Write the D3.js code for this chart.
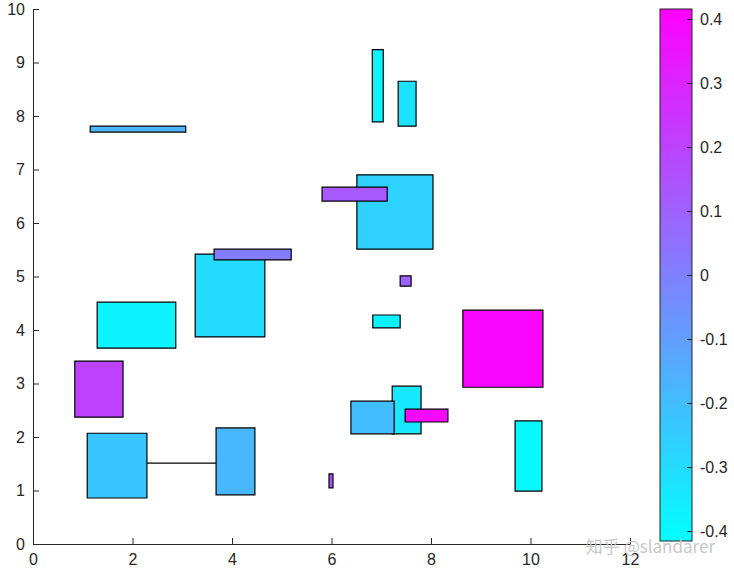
<!DOCTYPE html>
<html><head><meta charset="utf-8">
<script src="https://cdn.jsdelivr.net/npm/d3@7"></script>
<style>body{margin:0;background:#fff}</style>
</head><body>
<svg id="c" width="734" height="577"></svg>
<script>
// rectangles: [x0, x1, y0, y1]
var rects = [
  [1.15, 3.07, 7.70, 7.81], [6.82, 7.04, 7.89, 9.24], [7.34, 7.70, 7.81, 8.65],
  [6.51, 8.04, 5.51, 6.90], [5.81, 7.12, 6.41, 6.67], [3.26, 4.66, 3.87, 5.42],
  [3.64, 5.19, 5.31, 5.51], [1.29, 2.87, 3.66, 4.52], [7.38, 7.60, 4.82, 5.01],
  [6.83, 7.38, 4.04, 4.28], [8.64, 10.25, 2.93, 4.37], [0.84, 1.81, 2.37, 3.42],
  [7.22, 7.80, 2.06, 2.95], [6.39, 7.26, 2.06, 2.67], [7.48, 8.34, 2.28, 2.52],
  [9.69, 10.23, 0.99, 2.30], [1.09, 2.29, 0.86, 2.07], [3.68, 4.46, 0.92, 2.17],
  [5.95, 6.03, 1.05, 1.31], [2.29, 3.68, 1.51, 1.51]
]
var values = [-0.17, -0.38, -0.32, -0.27, 0.13, -0.30, 0.01, -0.38, 0.09,
  -0.37, 0.40, 0.20, -0.34, -0.20, 0.39, -0.40, -0.23, -0.18, 0.15, 0]
var xTicks = [0, 2, 4, 6, 8, 10, 12]
var yTicks = [0, 1, 2, 3, 4, 5, 6, 7, 8, 9, 10]
var cTicks = [-0.4, -0.3, -0.2, -0.1, 0, 0.1, 0.2, 0.3, 0.4]
var cMin = -0.4156, cMax = 0.4156

var svg = d3.select('#c').style('font-family', 'Liberation Sans, Arial').style('font-size', '16px')
var x = d3.scaleLinear().domain([0, 12]).range([33, 630])
var y = d3.scaleLinear().domain([0, 10]).range([544, 9])
var cool = function(v) {
  var t = (v - cMin) / (cMax - cMin)
  return d3.rgb(255 * t, 255 * (1 - t), 255)
}

// path so that zero-height boxes still show as a line
svg.selectAll('.r').data(rects).enter().append('path')
  .attr('d', function(d) {
    var x0 = x(d[0]), x1 = x(d[1]), y0 = y(d[2]), y1 = y(d[3])
    return 'M' + x0 + ',' + y0 + 'H' + x1 + 'V' + y1 + 'H' + x0 + 'Z'
  })
  .attr('fill', function(d, i) { return cool(values[i]) })
  .attr('stroke', '#000').attr('stroke-width', 1.2)

var xa = svg.append('g').attr('transform', 'translate(0,544)')
  .call(d3.axisBottom(x).tickValues(xTicks).tickSizeInner(-6).tickSizeOuter(0).tickPadding(10))
var ya = svg.append('g').attr('transform', 'translate(33,0)')
  .call(d3.axisLeft(y).tickValues(yTicks).tickSizeInner(-6).tickSizeOuter(0).tickPadding(8))
;[xa, ya].forEach(function(a) {
  a.selectAll('text').style('font-size', '16px').attr('fill', '#262626')
  a.selectAll('line,path').attr('stroke', '#262626')
})

// colorbar
var cy = d3.scaleLinear().domain([cMin, cMax]).range([541, 9])
var grad = svg.append('defs').append('linearGradient').attr('id', 'g')
  .attr('x1', 0).attr('y1', 1).attr('x2', 0).attr('y2', 0)
grad.append('stop').attr('offset', 0).attr('stop-color', cool(cMin))
grad.append('stop').attr('offset', 1).attr('stop-color', cool(cMax))
svg.append('rect').attr('x', 660).attr('y', 9).attr('width', 32).attr('height', 532)
  .attr('fill', 'url(#g)').attr('stroke', '#262626')
var ca = svg.append('g').attr('transform', 'translate(692,0)')
  .call(d3.axisRight(cy).tickValues(cTicks).tickSizeInner(-5).tickSizeOuter(0).tickPadding(8)
    .tickFormat(function(d) { return d === 0 ? '0' : d.toFixed(1) }))
ca.select('.domain').remove()
ca.selectAll('text').style('font-size', '16px').attr('fill', '#262626')
ca.selectAll('line').attr('stroke', '#262626')

svg.append('text').attr('x', 715).attr('y', 553).attr('text-anchor', 'end')
  .style('font-size', '17px').attr('fill', '#c8c8c8')
  .style('font-family', 'Noto Sans CJK SC').text('知乎 @slandarer')
</script>
</body></html>
